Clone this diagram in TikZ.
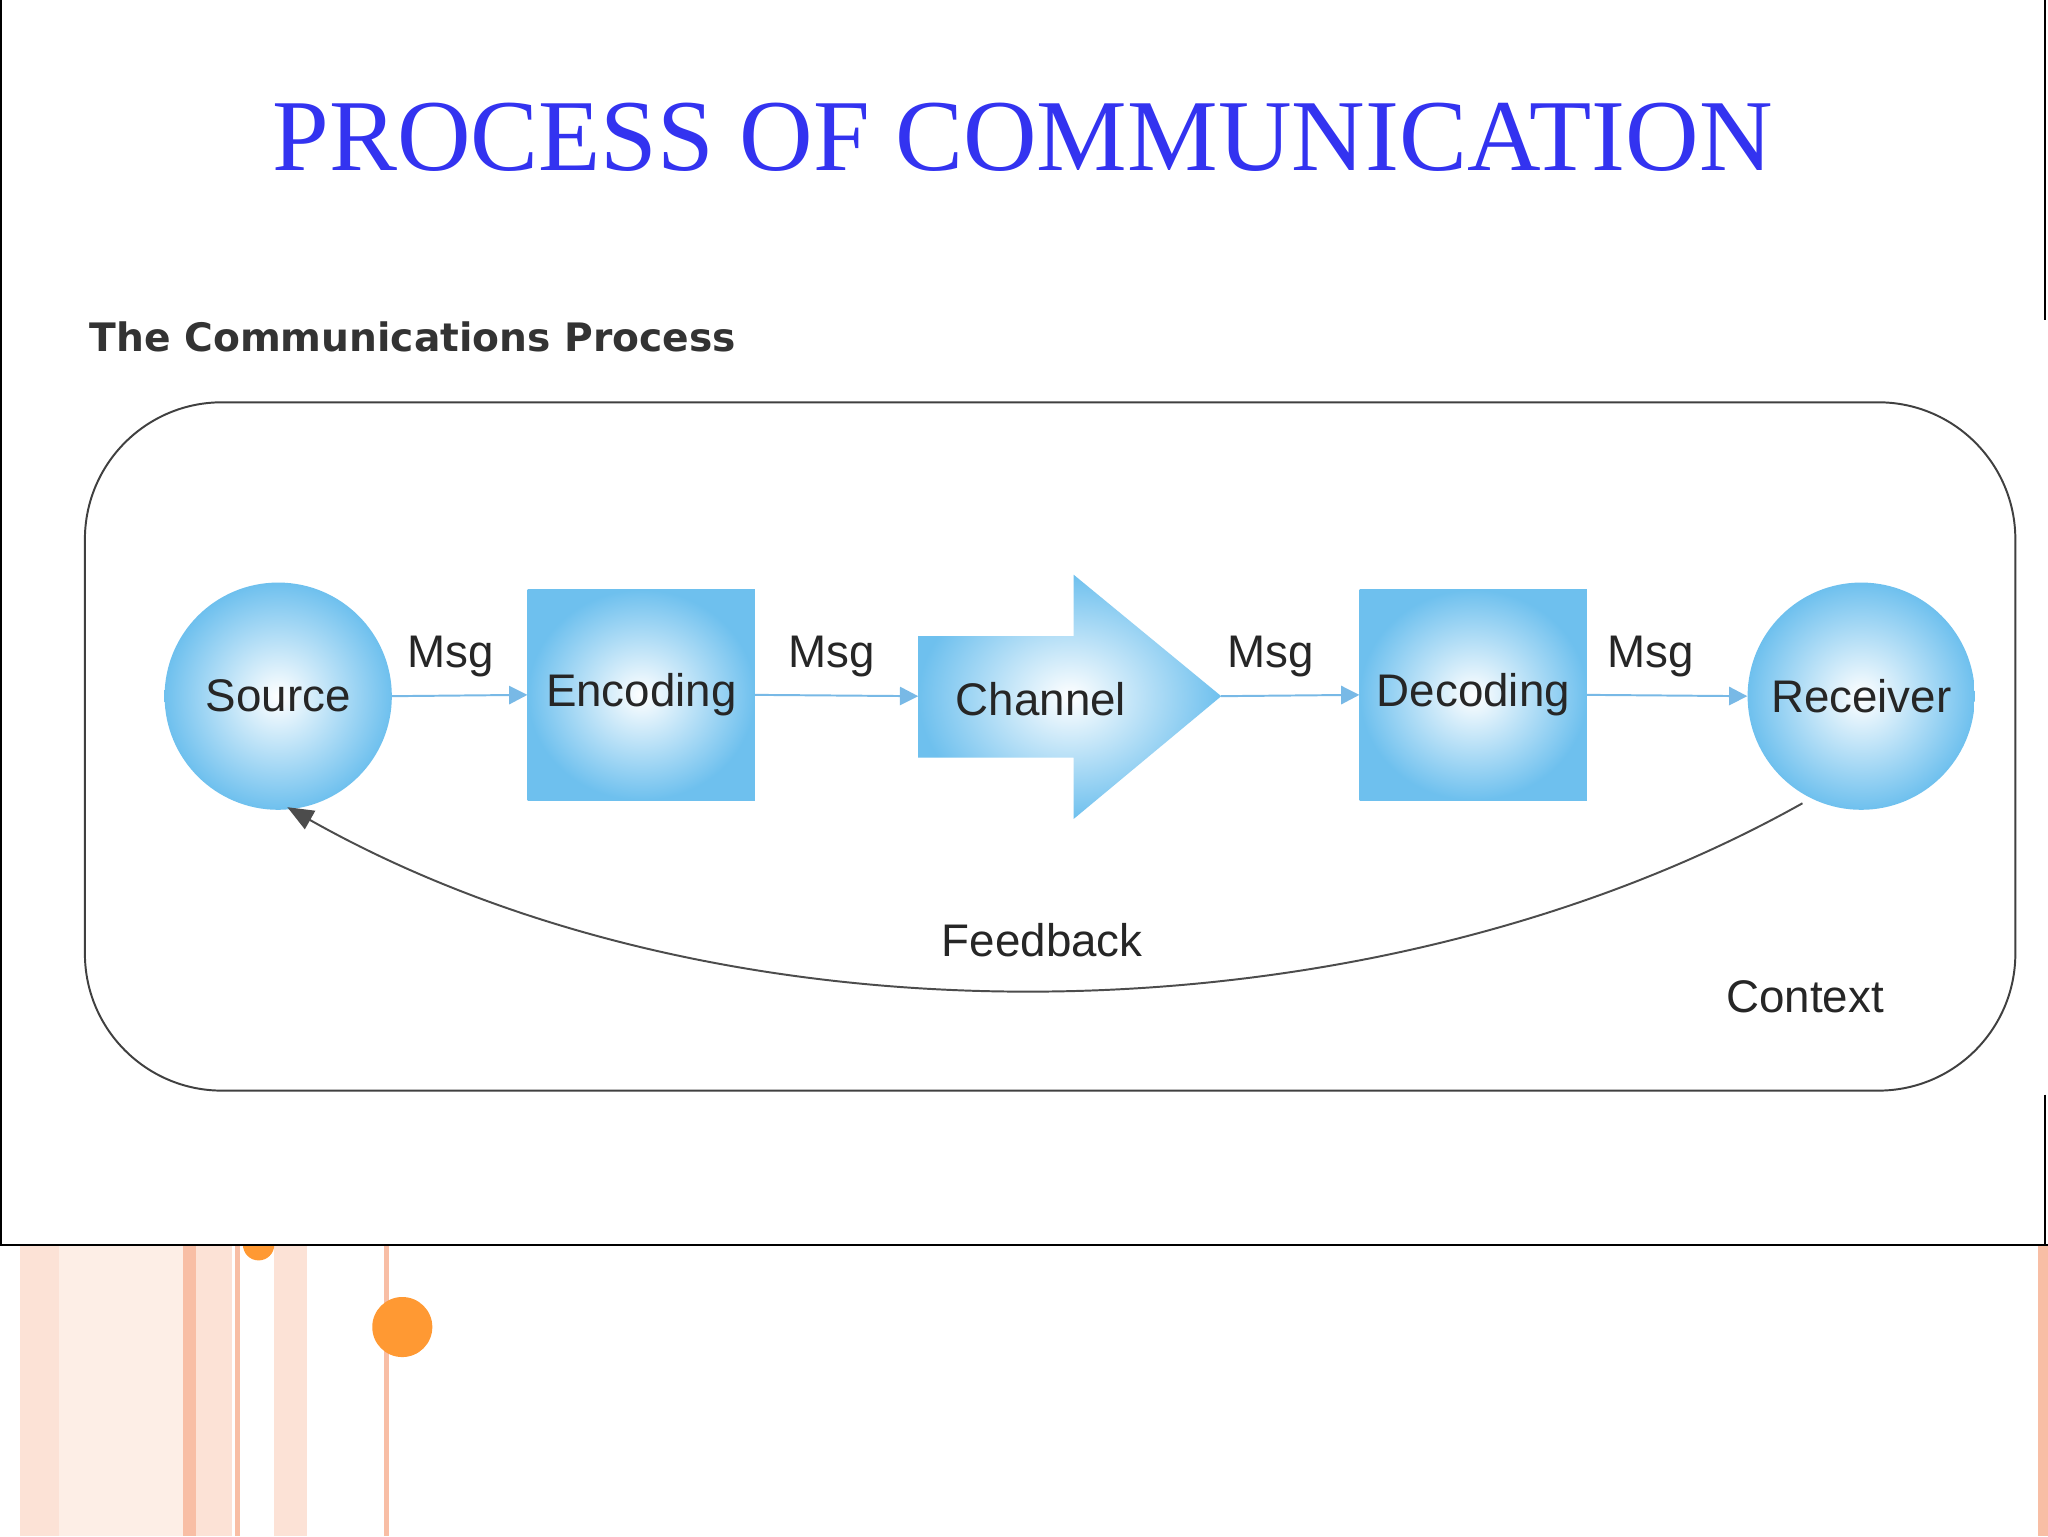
\documentclass[tikz,border=0pt]{standalone}
\usepackage{fontspec}
\setmainfont{Liberation Serif}
\setsansfont{Liberation Sans}
\newfontfamily\subfont{DejaVu Sans}
\usetikzlibrary{arrows.meta}
\definecolor{ttl}{RGB}{51,51,240}
\definecolor{sky}{RGB}{110,192,238}
\definecolor{arr}{RGB}{120,185,230}
\definecolor{pe1}{RGB}{252,226,214}
\definecolor{pe2}{RGB}{253,238,230}
\definecolor{pe3}{RGB}{248,190,165}
\begin{document}
\begin{tikzpicture}[x=1pt,y=-1pt,
 blob/.style={inner color=white,outer color=sky},
 lbl/.style={font=\sffamily\fontsize{35}{38}\selectfont,text=black!85},
 msg/.style={-{Triangle[length=14,width=14]},draw=arr,line width=1.5,color=arr}]
\useasboundingbox (0,0) rectangle (1568,1176);
% bottom decorations
\fill[pe2] (15,953) rectangle (140,1176);
\fill[pe1] (15,953) rectangle (45,1176);
\fill[pe3] (140,953) rectangle (150,1176);
\fill[pe1] (150,953) rectangle (178,1176);
\fill[pe3] (180,953) rectangle (184,1176);
\fill[pe1] (210,953) rectangle (235,1176);
\fill[pe3] (294,953) rectangle (298,1176);
\fill[pe3] (1560,953) rectangle (1568,1176);
\fill[orange!80] (198,953) circle (12);
\fill[orange!80] (308,1016) circle (23);
\fill[white] (0,0) rectangle (1568,953);
\draw[line width=1.5] (0.75,0) -- (0.75,953) -- (1568,953);
\draw[line width=1.5] (1566,0) -- (1566,245);
\draw[line width=1.5] (1566,838) -- (1566,953);
% titles
\node[text=ttl,font=\fontsize{78}{82}\selectfont] (title) at (783,105) {PROCESS OF COMMUNICATION};
\node[anchor=west,font=\subfont\bfseries\fontsize{30}{34}\selectfont,text=black!80] (sub) at (65,258) {The Communications Process};
% context
\draw[line width=1.5,black!75,rounded corners=105] (65,308) rectangle (1543,835);
% nodes
\node[circle,blob,minimum size=174,inner sep=0] (src) at (213,533) {};
\node[lbl] at (src) {Source};
\node[blob,minimum width=174,minimum height=161,inner sep=0] (enc) at (491,532) {};
\node[lbl] at (enc) {Encoding};
\shade[inner color=white,outer color=sky] (703,487) -- (822,487) -- (822,440) -- (935,533) -- (822,627) -- (822,580) -- (703,580) -- cycle;
\coordinate (chl) at (703,533);
\coordinate (chr) at (935,533);
\node[lbl] (chan) at (797,535) {Channel};
\node[blob,minimum width=174,minimum height=161,inner sep=0] (dec) at (1128,532) {};
\node[lbl] at (dec) {Decoding};
\node[circle,blob,minimum size=174,inner sep=0] (rec) at (1425,533) {};
\node[lbl] at (rec) {Receiver};
% arrows
\draw[msg] (src.east) -- (enc.west);
\draw[msg] (enc.east) -- (chl);
\draw[msg] (chr) -- (dec.west);
\draw[msg] (dec.east) -- (rec.west);
\node[lbl] at (345,503) {Msg};
\node[lbl] at (637,503) {Msg};
\node[lbl] at (973,503) {Msg};
\node[lbl] at (1264,503) {Msg};
% feedback
\coordinate (fb0) at (1380,615);
\coordinate (fb1) at (220,618);
\draw[line width=1.5,black!70,-{Triangle[length=20,width=16]}] (fb0) .. controls (1050,800) and (560,810) .. (fb1);
\node[lbl] (fb) at (798,720) {Feedback};
\node[lbl] (ctx) at (1382,763) {Context};
\end{tikzpicture}
\end{document}
